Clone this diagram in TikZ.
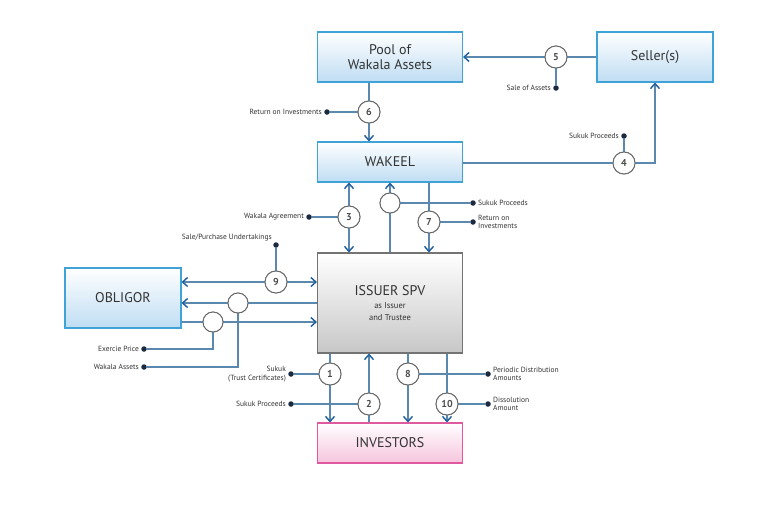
\documentclass[tikz,border=0pt]{standalone}
\usepackage{fontspec}
\setmainfont{PT Sans}
\usetikzlibrary{arrows.meta}
\definecolor{ln}{HTML}{5A88AE}
\definecolor{bb}{HTML}{3FA3D8}
\definecolor{bfill}{HTML}{BFDDF3}
\definecolor{pk}{HTML}{E0589E}
\definecolor{pfill}{HTML}{F6C4DD}
\definecolor{ar}{HTML}{1F5E9E}
\definecolor{dt}{HTML}{1A2A40}
\tikzset{
 bluebox/.style={draw=bb,line width=1.1pt,top color=white,bottom color=bfill,minimum width=145pt,align=center,font=\fontsize{14}{15}\selectfont\color{black!80}},
 num/.style={circle,draw=black!60,fill=white,line width=0.9pt,minimum size=22pt,inner sep=0pt,font=\fontsize{10}{10}\selectfont\bfseries\color{black!70}},
 oc/.style={circle,draw=black!60,fill=white,line width=0.9pt,minimum size=20pt,inner sep=0pt},
 dotn/.style={circle,fill=dt,minimum size=5.5pt,inner sep=0pt},
 lab/.style={font=\fontsize{7.5}{8.5}\selectfont\color{black!80},align=left,inner sep=2pt},
 fl/.style={draw=ln,line width=1.1pt},
 arr/.style={fl,-{Straight Barb[length=5pt,width=9pt,line width=1.4pt,color=ar]}},
 darr/.style={fl,{Straight Barb[length=5pt,width=9pt,line width=1.4pt,color=ar]}-{Straight Barb[length=5pt,width=9pt,line width=1.4pt,color=ar]}},
}
\begin{document}
\begin{tikzpicture}[x=1pt,y=-1pt]
\useasboundingbox[fill=white] (0,0) rectangle (768,509);
% boxes
\node[bluebox,minimum height=50pt] (pool) at (390,57) {Pool of\\Wakala Assets};
\node[bluebox,minimum width=116pt,minimum height=50pt] (seller) at (655,57) {Seller(s)};
\node[bluebox,minimum height=40pt] (wak) at (390,162) {WAKEEL};
\node[bluebox,minimum width=116pt,minimum height=60pt] (obl) at (123,298) {OBLIGOR};
\node[draw=black!55,line width=1.1pt,top color=white,bottom color=black!22,minimum width=145pt,minimum height=100pt,align=center] (spv) at (390,303)
  {{\fontsize{14}{16}\selectfont\color{black!80}ISSUER SPV}\\[1pt]{\fontsize{8.5}{11}\selectfont\color{black!80}as Issuer}\\{\fontsize{8.5}{11}\selectfont\color{black!80}and Trustee}};
\node[draw=pk,line width=1.1pt,top color=white,bottom color=pfill,minimum width=145pt,minimum height=40pt,font=\fontsize{14}{15}\selectfont\color{black!80}] (inv) at (390,443) {INVESTORS};
% circles
\node[num] (c5) at (556,57) {5};
\node[num] (c6) at (369,112) {6};
\node[num] (c4) at (624,163) {4};
\node[num] (c3) at (349,217) {3};
\node[oc] (o1) at (390,203) {};
\node[num] (c7) at (429,222) {7};
\node[num] (c9) at (276,282) {9};
\node[oc] (o2) at (238,303) {};
\node[oc] (o3) at (213,322) {};
\node[num] (c1) at (330,374) {1};
\node[num] (c2) at (369,404) {2};
\node[num] (c8) at (408,374) {8};
\node[num] (c10) at (447,404) {10};
% dots
\node[dotn] (d5) at (556,88) {}; \node[lab,anchor=east] at (d5.west) {Sale of Assets};
\node[dotn] (d6) at (327,112) {}; \node[lab,anchor=east] at (d6.west) {Return on Investments};
\node[dotn] (d4) at (624,136) {}; \node[lab,anchor=east] at (d4.west) {Sukuk Proceeds};
\node[dotn] (d3) at (309,217) {}; \node[lab,anchor=east] at (d3.west) {Wakala Agreement};
\node[dotn] (do1) at (473,203) {}; \node[lab,anchor=west] at (do1.east) {Sukuk Proceeds};
\node[dotn] (d7) at (473,222) {}; \node[lab,anchor=west] at (d7.east) {Return on\\Investments};
\node[dotn] (d9) at (276,245) {}; \node[lab,anchor=south east] at (d9.north west) {Sale/Purchase Undertakings};
\node[dotn] (dwa) at (144,367) {}; \node[lab,anchor=east] at (dwa.west) {Wakala Assets};
\node[dotn] (dex) at (144,349) {}; \node[lab,anchor=east] at (dex.west) {Exercie Price};
\node[dotn] (d1) at (291,374) {}; \node[lab,anchor=east,align=right] at (d1.west) {Sukuk\\(Trust Certificates)};
\node[dotn] (d2) at (291,404) {}; \node[lab,anchor=east] at (d2.west) {Sukuk Proceeds};
\node[dotn] (d8) at (488,374) {}; \node[lab,anchor=west] at (d8.east) {Periodic Distribution\\Amounts};
\node[dotn] (d10) at (488,404) {}; \node[lab,anchor=west] at (d10.east) {Dissolution\\Amount};
% connectors
\draw[fl] (seller.west) -- (c5);
\draw[arr] (c5) -- (pool.east);
\draw[fl] (c5) -- (d5);
\draw[fl] (pool.south -| c6) -- (c6);
\draw[arr] (c6) -- (wak.north -| c6);
\draw[fl] (c6) -- (d6);
\draw[fl] (wak.east |- c4) -- (c4);
\draw[arr] (c4) -| (seller.south);
\draw[fl] (c4) -- (d4);
\draw[darr] (wak.south -| c3) -- (spv.north -| c3);
\draw[fl] (c3) -- (d3);
\draw[arr] (spv.north -| o1) -- (wak.south -| o1);
\draw[fl] (o1) -- (do1);
\draw[arr] (wak.south -| c7) -- (spv.north -| c7);
\draw[fl] (c7) -- (d7);
\draw[darr] (obl.east |- c9) -- (spv.west |- c9);
\draw[fl] (c9) -- (d9);
\draw[arr] (spv.west |- o2) -- (obl.east |- o2);
\draw[fl] (o2.south) |- (dwa);
\draw[arr] (obl.east |- o3) -- (spv.west |- o3);
\draw[fl] (o3.south) |- (dex);
\draw[arr] (spv.south -| c1) -- (inv.north -| c1);
\draw[fl] (c1) -- (d1);
\draw[arr] (inv.north -| c2) -- (spv.south -| c2);
\draw[fl] (c2) -- (d2);
\draw[arr] (spv.south -| c8) -- (inv.north -| c8);
\draw[fl] (c8) -- (d8);
\draw[arr] (spv.south -| c10) -- (inv.north -| c10);
\draw[fl] (c10) -- (d10);
% redraw circles on top
\foreach \c/\t in {c5/5,c6/6,c4/4,c3/3,c7/7,c9/9,c1/1,c2/2,c8/8,c10/10}{\node[num] at (\c) {\t};}
\foreach \c in {o1,o2,o3}{\node[oc] at (\c) {};}
\end{tikzpicture}
\end{document}
